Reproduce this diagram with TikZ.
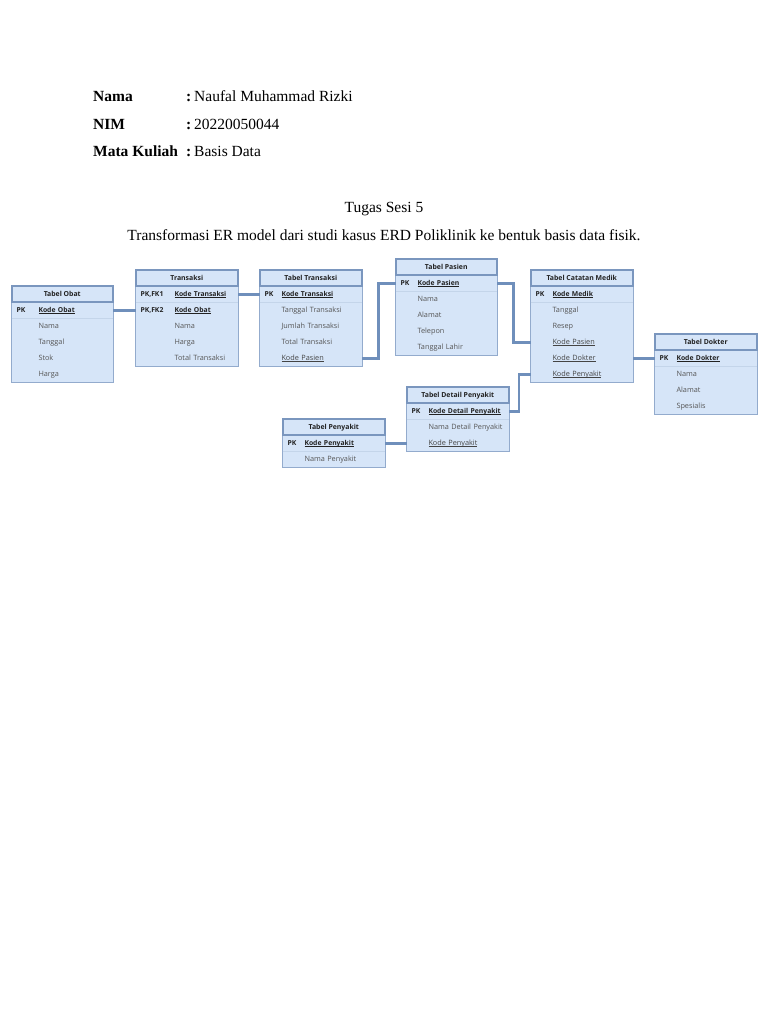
\documentclass[tikz,border=0pt]{standalone}
\usepackage{fontspec}
\setmainfont{Liberation Serif}
\newfontfamily\erdfont{Open Sans}
\definecolor{boxfill}{HTML}{D6E5F8}
\definecolor{boxline}{HTML}{93ABCD}
\definecolor{headline}{HTML}{7A96BE}
\definecolor{linkline}{HTML}{6F8FBB}
\definecolor{sepline}{HTML}{C4D5EA}
\definecolor{plaintext}{HTML}{555555}
\definecolor{fktext}{HTML}{444444}
\definecolor{keytext}{HTML}{222222}
\tikzset{
  page text/.style={anchor=base west,inner sep=0pt,font=\fontsize{15.5}{18}\selectfont,text=black},
  page center/.style={anchor=base,inner sep=0pt,font=\fontsize{15.5}{18}\selectfont,text=black},
  tablebox/.style={draw=boxline,line width=1pt,fill=boxfill,anchor=north west,inner sep=0pt,outer sep=0pt},
  headbox/.style={draw=headline,line width=2pt,fill=boxfill,anchor=north west,inner sep=0pt,outer sep=0pt,
    font=\erdfont\bfseries\fontsize{6.9}{8}\selectfont,text=keytext,text height=5pt,text depth=0pt},
  rowcell/.style={anchor=north west,inner xsep=5pt,inner ysep=0pt,outer sep=0pt,minimum height=16pt,align=left,
    font=\erdfont\fontsize{7.3}{8}\selectfont,text height=5pt,text depth=1.5pt},
  link/.style={draw=linkline,line width=2.2pt,line join=miter},
}
\newcommand{\keyrow}[2]{\makebox[\pkw pt][l]{\fontsize{6.8}{8}\selectfont\textbf{\textcolor{keytext}{#1}}}{\fontsize{6.8}{8}\selectfont\textbf{\textcolor{keytext}{\underline{\smash{#2}}}}}}
\newcommand{\plainrow}[1]{\hspace*{\pkw pt}\textcolor{plaintext}{#1}}
\newcommand{\fkrow}[1]{\hspace*{\pkw pt}\textcolor{fktext}{\underline{\smash{#1}}}}
% name, x, y, width, rows, pk column width, title, row list
\newcommand{\erdtable}[8]{%
  \def\pkw{#6}%
  \pgfmathsetmacro{\tabh}{16*(#5+1)+1}%
  \pgfmathsetmacro{\tw}{#4-10}%
  \pgfmathsetmacro{\hw}{#4-1}%
  \node[tablebox,minimum width=#4pt,minimum height=\tabh pt] (#1) at (#2,#3) {};
  \node[headbox,minimum width=\hw pt,minimum height=15.5pt] (#1-head) at ({#2+0.5},{#3+0.5}) {#7};
  \foreach \rowtxt [count=\ri] in {#8} {
    \node[rowcell,text width=\tw pt] (#1-\ri) at (#2,{#3+1+16*\ri}) {\rowtxt};
  }
  \draw[sepline,line width=0.6pt] (#1-1.south west) -- (#1-1.south east);
}
\begin{document}
\begin{tikzpicture}[x=1pt,y=-1pt]
\useasboundingbox (0,0) rectangle (768,1024);
\fill[white] (0,0) rectangle (768,1024);
% heading
\node[page text] (l1) at (93,102) {\textbf{Nama}};
\node[page text] (d1) at (186,102) {\textbf{:}};
\node[page text] (c1) at (194,102) {Naufal Muhammad Rizki};
\node[page text] (l2) at (93,129.5) {\textbf{NIM}};
\node[page text] (d2) at (186,129.5) {\textbf{:}};
\node[page text] (c2) at (194,129.5) {20220050044};
\node[page text] (l3) at (93,157) {\textbf{Mata Kuliah}};
\node[page text] (d3) at (186,157) {\textbf{:}};
\node[page text] (c3) at (194,157) {Basis Data};
\node[page center] (t1) at (384,212.5) {Tugas Sesi 5};
\node[page center] (t2) at (384,240.5) {Transformasi ER model dari studi kasus ERD Poliklinik ke bentuk basis data fisik.};
% tables
\erdtable{obat}{11.5}{285.5}{101.5}{5}{22}{Tabel Obat}{\keyrow{PK}{Kode Obat},\plainrow{Nama},\plainrow{Tanggal},\plainrow{Stok},\plainrow{Harga}}
\erdtable{trans}{135.5}{269.5}{102.5}{5}{34}{Transaksi}{\keyrow{PK,FK1}{Kode Transaksi},\keyrow{PK,FK2}{Kode Obat},\plainrow{Nama},\plainrow{Harga},\plainrow{Total Transaksi}}
\erdtable{ttrans}{259.5}{269.5}{102.5}{5}{17}{Tabel Transaksi}{\keyrow{PK}{Kode Transaksi},\plainrow{Tanggal Transaksi},\plainrow{Jumlah Transaksi},\plainrow{Total Transaksi},\fkrow{Kode Pasien}}
\erdtable{pasien}{395.5}{258.5}{101.5}{5}{17}{Tabel Pasien}{\keyrow{PK}{Kode Pasien},\plainrow{Nama},\plainrow{Alamat},\plainrow{Telepon},\plainrow{Tanggal Lahir}}
\erdtable{medik}{530.5}{269.5}{102.5}{6}{17}{Tabel Catatan Medik}{\keyrow{PK}{Kode Medik},\plainrow{Tanggal},\plainrow{Resep},\fkrow{Kode Pasien},\fkrow{Kode Dokter},\fkrow{Kode Penyakit}}
\erdtable{dokter}{654.5}{333.5}{102.5}{4}{17}{Tabel Dokter}{\keyrow{PK}{Kode Dokter},\plainrow{Nama},\plainrow{Alamat},\plainrow{Spesialis}}
\erdtable{detail}{406.5}{386.5}{102.5}{3}{17}{Tabel Detail Penyakit}{\keyrow{PK}{Kode Detail Penyakit},\plainrow{Nama Detail Penyakit},\fkrow{Kode Penyakit}}
\erdtable{penyakit}{282.5}{418.5}{102.5}{2}{17}{Tabel Penyakit}{\keyrow{PK}{Kode Penyakit},\plainrow{Nama Penyakit}}
% connectors
\draw[link] (obat-1.east) -- (trans-2.west);
\draw[link] (trans-1.east) -- (ttrans-1.west);
\draw[link] (ttrans-5.east) -- ++(16.5,0) |- (pasien-1.west);
\draw[link] (pasien-1.east) -- ++(16.5,0) |- (medik-4.west);
\draw[link] (medik-5.east) -- (dokter-1.west);
\draw[link] (detail-1.east) -- ++(10,0) |- (medik-6.west);
\draw[link] (penyakit-1.east) -- (detail-3.west);
\end{tikzpicture}
\end{document}
